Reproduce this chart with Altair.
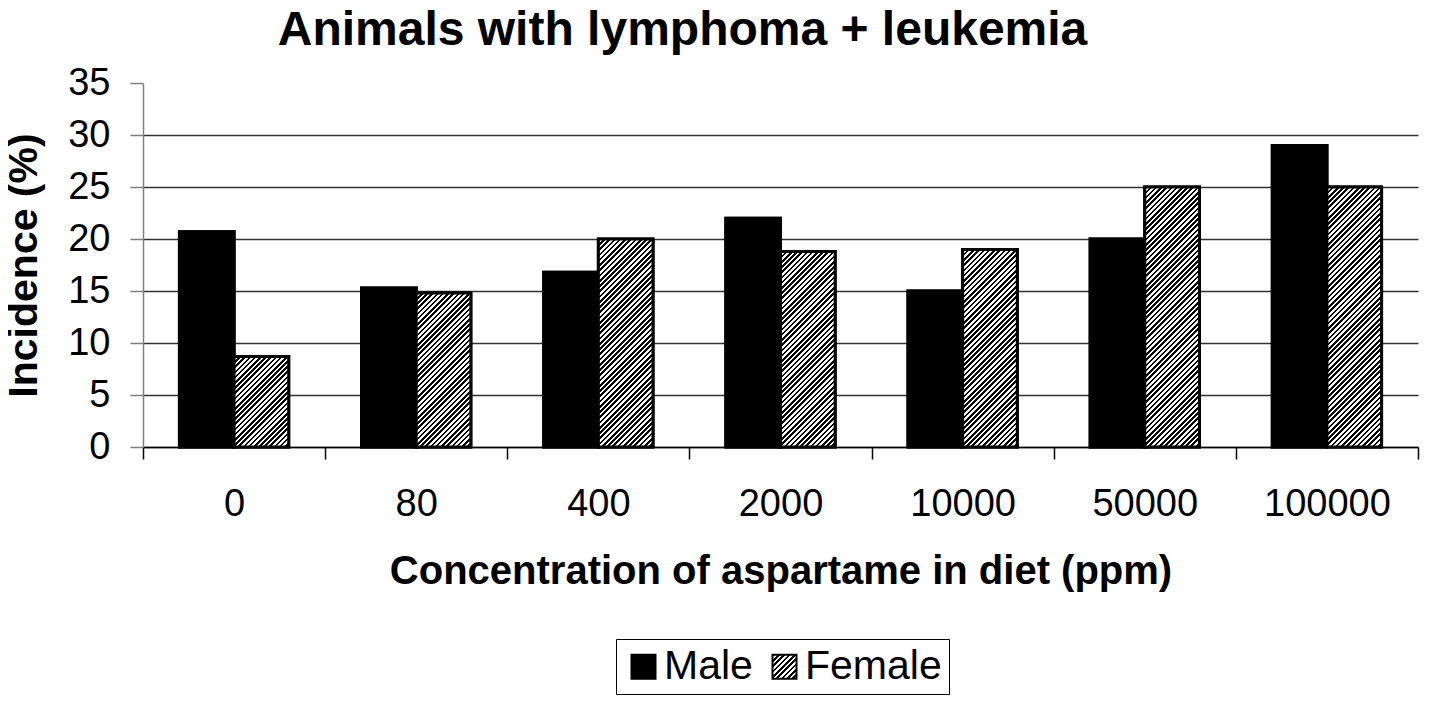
import math
import altair as alt

# ---- data ----
concentrations = ["0", "80", "400", "2000", "10000", "50000", "100000"]
male = [20.7, 15.3, 16.8, 22.0, 15.0, 20.0, 29.0]
female = [8.7, 14.8, 20.0, 18.8, 19.0, 25.0, 25.0]
series = ["Male", "Female"]

FONT = "Liberation Sans"
PLOT_W = 1275
PLOT_H = 364
Y_MAX = 35
STEP = PLOT_W / len(concentrations)
BAR_W = STEP * 0.3
PERIOD = 3.7  # hatch period (px, perpendicular to stripes)


def hatch_stops(n, frac=0.5):
    stops = []
    for i in range(n):
        a, b, c = i / n, (i + frac) / n, (i + 1) / n
        stops += [
            {"offset": round(a, 5), "color": "black"},
            {"offset": round(b, 5), "color": "black"},
            {"offset": round(b, 5), "color": "white"},
            {"offset": round(c, 5), "color": "white"},
        ]
    return stops


def hatch(w, h):
    k = h / w
    gx = (1 + k) / (1 + k * k)
    gy = k * gx
    n = max(1, round((w + h) / (math.sqrt(2) * PERIOD)))
    return {"gradient": "linear", "x1": 0, "y1": 0, "x2": gx, "y2": gy,
            "stops": hatch_stops(n)}


def legend_hatch_expr(side=24):
    n = max(1, round(2 * side / (math.sqrt(2) * PERIOD)))
    parts = ",".join("{offset:%s,color:'%s'}" % (s["offset"], s["color"]) for s in hatch_stops(n))
    return "{gradient:'linear',x1:0,y1:0,x2:1,y2:1,stops:[" + parts + "]}"


records = []
for c, m, f in zip(concentrations, male, female):
    records.append({"conc": c, "series": "Male", "value": m, "grad": "black"})
    h = f * PLOT_H / Y_MAX
    records.append({"conc": c, "series": "Female", "value": f, "grad": hatch(BAR_W, h)})

data = alt.Data(values=records)

x_enc = alt.X(
    "conc:N", sort=concentrations,
    scale=alt.Scale(paddingInner=0, paddingOuter=0),
    axis=alt.Axis(
        title="Concentration of aspartame in diet (ppm)",
        labelAngle=0, labelFontSize=38, labelFont=FONT, labelColor="black",
        labelPadding=26, tickBand="extent", tickSize=12, tickColor="black",
        tickWidth=1.5, domainColor="black", domainWidth=1.5, grid=False,
        titleFontSize=40, titleFont=FONT, titleFontWeight="bold",
        titleColor="black", titlePadding=28,
    ),
)
xoff_enc = alt.XOffset("series:N", sort=series,
                       scale=alt.Scale(domain=series, paddingInner=0, paddingOuter=2 / 3))
y_enc = alt.Y(
    "value:Q",
    scale=alt.Scale(domain=[0, Y_MAX], nice=False, zero=True),
    axis=alt.Axis(
        title="Incidence (%)", values=[0, 5, 10, 15, 20, 25, 30, 35],
        labelFontSize=38, labelFont=FONT, labelColor="black", labelPadding=20,
        tickSize=13, tickColor="#808080", tickWidth=1.5,
        domainColor="#808080", domainWidth=1.5,
        grid=True, gridWidth=1.5,
        gridColor={"condition": {"test": "datum.value >= 35", "value": "transparent"},
                   "value": "#333333"},
        titleFontSize=41, titleFont=FONT, titleFontWeight="bold",
        titleColor="black", titlePadding=22,
    ),
)

legend_layer = alt.Chart(data).mark_bar(stroke="black", strokeWidth=3).encode(
    x=x_enc, xOffset=xoff_enc, y=y_enc,
    color=alt.Color(
        "series:N", sort=series,
        scale=alt.Scale(domain=series, range=["black", {"expr": legend_hatch_expr()}]),
        legend=alt.Legend(
            title=None, orient="none", legendX=473, legendY=556,
            direction="horizontal", symbolType="square", symbolSize=576,
            symbolStrokeColor="black", symbolStrokeWidth=2,
            labelFontSize=41, labelFont=FONT, labelColor="black",
            labelOffset=0, columnPadding=11, padding=7,
            strokeColor="black", fillColor="white",
        ),
    ),
)

bar_layer = alt.Chart(data).mark_bar(stroke="black", strokeWidth=3).encode(
    x=x_enc, xOffset=xoff_enc, y=y_enc,
    fill=alt.Fill("grad:N", scale=None, legend=None),
)

chart = alt.layer(legend_layer, bar_layer).properties(
    width=PLOT_W, height=PLOT_H,
    background="white",
    title=alt.TitleParams(
        "Animals with lymphoma + leukemia", fontSize=48, font=FONT,
        fontWeight="bold", color="black", anchor="middle", dx=-98, offset=9,
    ),
    autosize=alt.AutoSizeParams(type="none"),
    padding={"left": 135, "top": 75, "right": 4, "bottom": 252},
).configure_view(stroke="transparent", strokeWidth=0)

chart.save("out.html", embed_options={"renderer": "svg", "actions": False})
